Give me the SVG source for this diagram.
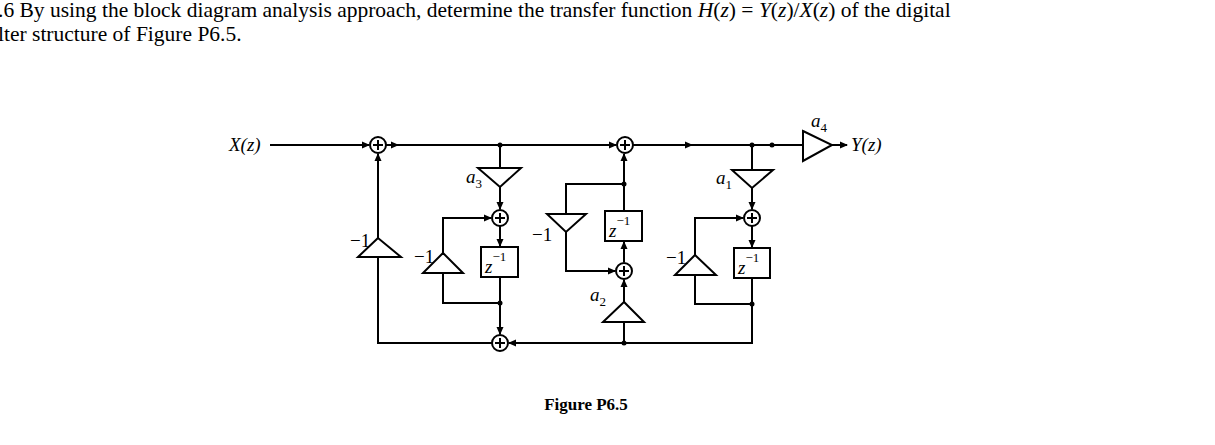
<svg xmlns="http://www.w3.org/2000/svg" width="1215" height="445" viewBox="0 0 1215 445">
<style>
text{font-family:"Liberation Serif",serif;fill:#000}
.t{font-size:21.5px}
.l{font-size:19px;font-style:italic}
.n{font-size:19px}
.s{font-size:13px;font-style:normal}
.w{stroke:#000;stroke-width:2;fill:none}
.g{stroke:#000;stroke-width:2;fill:#fff}
.p{font-size:17px;font-weight:bold}
</style>
<defs>
<marker id="a" markerWidth="8" markerHeight="8" refX="7" refY="4" orient="auto" markerUnits="userSpaceOnUse"><path d="M0,0.5 L8,4 L0,7.5z" fill="#000"/></marker>
<g id="add"><circle r="8" class="g"/><path d="M-5,0H5M0,-5V5" class="w"/></g>
</defs>
<rect width="1215" height="445" fill="#fff"/>
<text class="t" x="-2" y="17">.6 By using the block diagram analysis approach, determine the transfer function <tspan font-style="italic">H</tspan>(<tspan font-style="italic">z</tspan>) = <tspan font-style="italic">Y</tspan>(<tspan font-style="italic">z</tspan>)/<tspan font-style="italic">X</tspan>(<tspan font-style="italic">z</tspan>) of the digital</text>
<text class="t" x="-2" y="41">lter structure of Figure P6.5.</text>
<g id="connectors">
<path class="w" d="M270,145H369" marker-end="url(#a)"/>
<path class="w" d="M386,145H398" marker-end="url(#a)"/>
<path class="w" d="M398,145H616" marker-end="url(#a)"/>
<path class="w" d="M633,145H692" marker-end="url(#a)"/>
<path class="w" d="M692,145H803"/>
<path class="w" d="M832,145H847" marker-end="url(#a)"/>
<path class="w" d="M378,257V343H492" />
<path class="w" d="M378,238V154" marker-end="url(#a)"/>
<path class="w" d="M500,145V168"/>
<path class="w" d="M500,187V209" marker-end="url(#a)"/>
<path class="w" d="M500,226V246" marker-end="url(#a)"/>
<path class="w" d="M500,277V334" marker-end="url(#a)"/>
<path class="w" d="M443,253V218H491" marker-end="url(#a)"/>
<path class="w" d="M443,273V303H500"/>
<path class="w" d="M752,145V170"/>
<path class="w" d="M752,188V209" marker-end="url(#a)"/>
<path class="w" d="M752,226V247" marker-end="url(#a)"/>
<path class="w" d="M752,278V343H509" marker-end="url(#a)"/>
<path class="w" d="M695,255V218H743" marker-end="url(#a)"/>
<path class="w" d="M695,275V304H752"/>
<path class="w" d="M624,184V154" marker-end="url(#a)"/>
<path class="w" d="M624,211V184H566V214"/>
<path class="w" d="M566,232V271H615" marker-end="url(#a)"/>
<path class="w" d="M624,262V242" marker-end="url(#a)"/>
<path class="w" d="M624,302V280" marker-end="url(#a)"/>
<path class="w" d="M624,322V343"/>
<g fill="#000"><circle cx="500" cy="145" r="2.5"/><circle cx="772" cy="145" r="2.5"/><circle cx="500" cy="303" r="2.5"/><circle cx="752" cy="304" r="2.5"/><circle cx="624" cy="184" r="2.5"/><circle cx="624" cy="343" r="2.5"/><circle cx="752" cy="145" r="2.5"/></g>
</g>
<g id="x"><text class="l" x="229" y="151">X(z)</text></g>
<g id="add1"><use href="#add" x="378" y="145"/></g>
<g id="add2"><use href="#add" x="625" y="145"/></g>
<g id="g_neg1_left"><path class="g" d="M378,238L358,257H401Z"/><text class="n" x="350" y="247">−1</text></g>
<g id="g_a3"><path class="g" d="M478,168H521L500,187Z"/><text class="l" x="466" y="183">a<tspan class="s" dy="5">3</tspan></text></g>
<g id="add3"><use href="#add" x="500" y="218"/></g>
<g id="d1"><rect x="481" y="247" width="37" height="30" class="g"/><text class="l" x="485" y="273">z<tspan class="s" dy="-12">−1</tspan></text></g>
<g id="g_neg1_a"><path class="g" d="M443,253L423,273H463Z"/><text class="n" x="414" y="263">−1</text></g>
<g id="add_bottom"><use href="#add" x="500" y="343"/></g>
<g id="g_neg1_mid"><path class="g" d="M547,214H586L566,232Z"/><text class="n" x="532" y="241">−1</text></g>
<g id="d2"><rect x="605" y="211" width="37" height="30" class="g"/><text class="l" x="609" y="237">z<tspan class="s" dy="-12">−1</tspan></text></g>
<g id="add_mid"><use href="#add" x="624" y="271"/></g>
<g id="g_a2"><path class="g" d="M624,302L603,322H644Z"/><text class="l" x="590" y="301">a<tspan class="s" dy="5">2</tspan></text></g>
<g id="g_a1"><path class="g" d="M732,170H773L752,188Z"/><text class="l" x="716" y="184">a<tspan class="s" dy="5">1</tspan></text></g>
<g id="add4"><use href="#add" x="752" y="218"/></g>
<g id="d3"><rect x="734" y="248" width="36" height="30" class="g"/><text class="l" x="738" y="274">z<tspan class="s" dy="-12">−1</tspan></text></g>
<g id="g_neg1_r"><path class="g" d="M695,255L675,275H716Z"/><text class="n" x="666" y="264">−1</text></g>
<g id="g_a4"><path class="g" d="M803,131L832,145L803,161Z"/><text class="l" x="811" y="127">a<tspan class="s" dy="5">4</tspan></text></g>
<g id="y"><text class="l" x="851" y="151">Y(z)</text></g>
<text class="p" x="586" y="410" text-anchor="middle">Figure P6.5</text>
</svg>
